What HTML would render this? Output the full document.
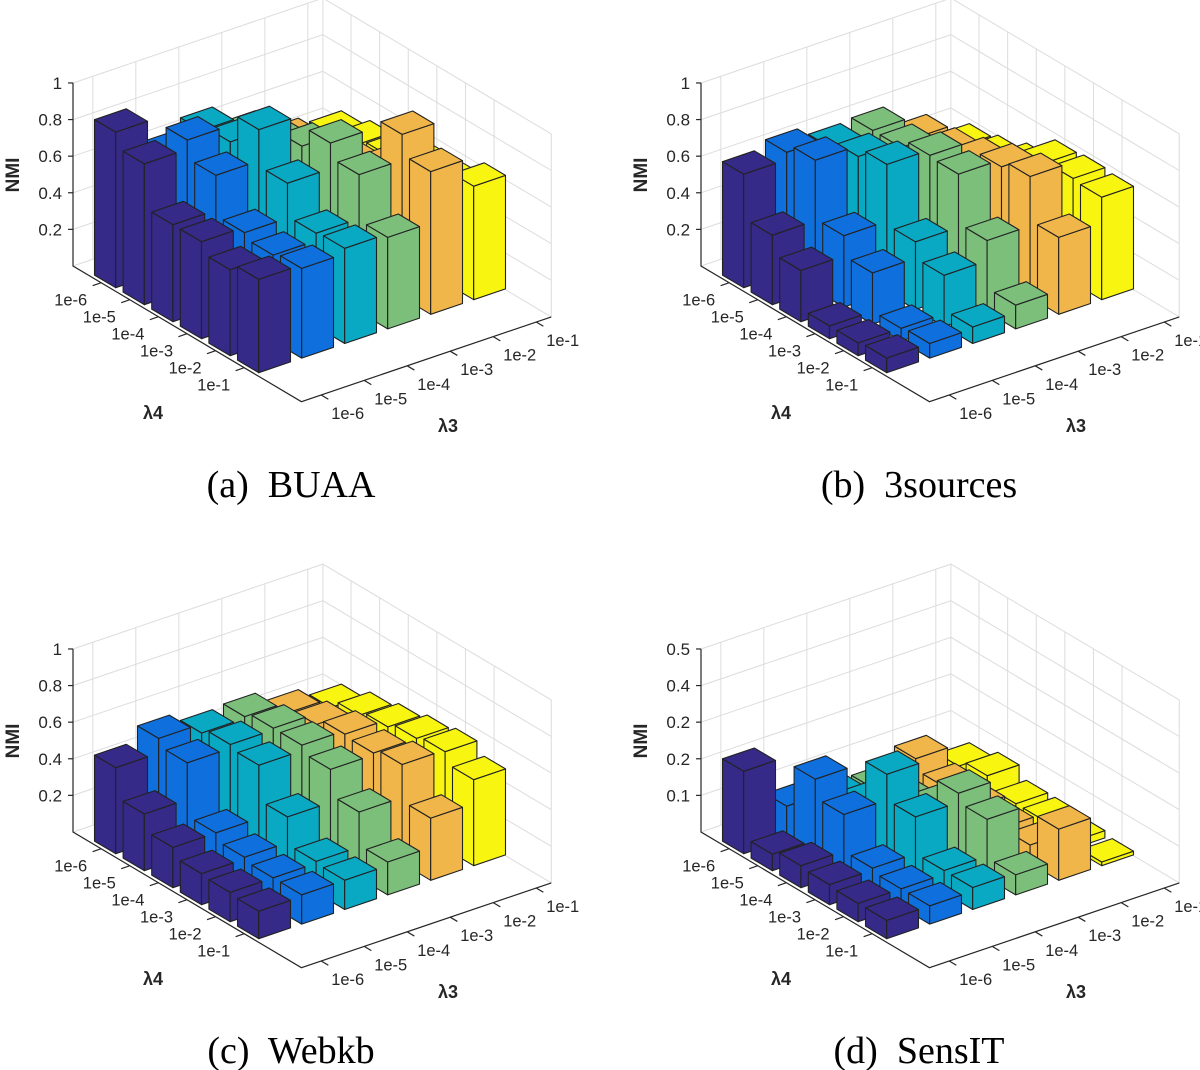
<!DOCTYPE html>
<html><head><meta charset="utf-8">
<style>
html,body{margin:0;padding:0;background:#fff;}
svg{display:block;}
text{font-family:"Liberation Sans",sans-serif;fill:#262626;}
.cap{font-family:"Liberation Serif",serif;font-size:38px;fill:#000;}
</style></head>
<body>
<svg id="fig" width="1200" height="1070" viewBox="0 0 1200 1070" xmlns="http://www.w3.org/2000/svg"></svg>
<script>
// tick labels
const lambdaLabels = ['1e-6','1e-5','1e-4','1e-3','1e-2','1e-1'];
const colors = ['#352a87','#0f6fdc','#0aa9c3','#7cbf7b','#f1b64a','#f8f511'];
// NMI values: each array = one λ3 column, values over λ4 (1e-6 .. 1e-1)
const buaaL3_1e6 = [0.85,0.77,0.53,0.53,0.47,0.51];
const buaaL3_1e5 = [0.64,0.82,0.72,0.50,0.47,0.49];
const buaaL3_1e4 = [0.70,0.73,0.89,0.69,0.51,0.52];
const buaaL3_1e3 = [0.60,0.65,0.72,0.83,0.75,0.50];
const buaaL3_1e2 = [0.48,0.50,0.55,0.60,0.89,0.78];
const buaaL3_1e1 = [0.44,0.48,0.51,0.55,0.55,0.62];

const srcL3_1e6 = [0.62,0.38,0.28,0.07,0.07,0.08];
const srcL3_1e5 = [0.66,0.71,0.39,0.28,0.07,0.08];
const srcL3_1e4 = [0.61,0.65,0.70,0.37,0.28,0.09];
const srcL3_1e3 = [0.62,0.62,0.67,0.66,0.39,0.13];
const srcL3_1e2 = [0.50,0.52,0.56,0.62,0.66,0.42];
const srcL3_1e1 = [0.37,0.40,0.45,0.56,0.57,0.56];

const webL3_1e6 = [0.47,0.31,0.22,0.17,0.16,0.15];
const webL3_1e5 = [0.55,0.51,0.22,0.18,0.16,0.16];
const webL3_1e4 = [0.50,0.53,0.51,0.32,0.17,0.16];
const webL3_1e3 = [0.51,0.54,0.54,0.50,0.36,0.18];
const webL3_1e2 = [0.45,0.48,0.52,0.51,0.54,0.34];
const webL3_1e1 = [0.40,0.45,0.48,0.51,0.53,0.47];

const senL3_1e6 = [0.225,0.045,0.06,0.055,0.05,0.05];
const senL3_1e5 = [0.09,0.21,0.16,0.06,0.05,0.05];
const senL3_1e4 = [0.08,0.10,0.23,0.16,0.06,0.06];
const senL3_1e3 = [0.06,0.07,0.10,0.185,0.16,0.055];
const senL3_1e2 = [0.10,0.07,0.06,0.05,0.05,0.14];
const senL3_1e1 = [0.04,0.06,0.03,0.03,0.02,0.01];

const zTicksFull = [0.2,0.4,0.6,0.8,1];
const zTickLabelsFull = ['0.2','0.4','0.6','0.8','1'];
const zTicksSen = [0.1,0.2,0.3,0.4,0.5];
const zTickLabelsSen = ['0.1','0.2','0.2','0.4','0.5'];

const NS = 'http://www.w3.org/2000/svg';
const svg = document.getElementById('fig');
const UX=28.6, UY=17, VX=43, VY=-14.6;
const IMIN=-0.985, IMAX=7, JMIN=-0.46, JMAX=5.35;

function el(tag, attrs, parent){
  const e=document.createElementNS(NS,tag);
  for(const k in attrs) e.setAttribute(k,attrs[k]);
  parent.appendChild(e); return e;
}
function pts(a){return a.map(p=>p[0].toFixed(1)+','+p[1].toFixed(1)).join(' ');}

function drawPanel(name, ox, oy, zs, zmax, zt, ztl, cols, caption){
  const g=el('g',{},svg);
  
  
  const X0=121+ox, Y0=276+oy;
  const P=(i,j,z)=>[X0+i*UX+j*VX, Y0+i*UY+j*VY - z*zs];
  const grid=el('g',{stroke:'#dcdcdc','stroke-width':1,fill:'none'},g);
  
  
  const zl=[0].concat(zt);
  zl.forEach(z=>{
    let a=P(IMIN,JMIN,z),b=P(IMIN,JMAX,z),c=P(IMAX,JMAX,z);
    el('polyline',{points:pts([a,b,c])},grid);
  });
  for(let j=0;j<6;j++){let a=P(IMIN,j,0),b=P(IMIN,j,zmax);el('line',{x1:a[0],y1:a[1],x2:b[0],y2:b[1]},grid);}
  for(let i=0;i<6;i++){let a=P(i,JMAX,0),b=P(i,JMAX,zmax);el('line',{x1:a[0],y1:a[1],x2:b[0],y2:b[1]},grid);}
  [[IMIN,JMAX],[IMAX,JMAX]].forEach(q=>{let a=P(q[0],q[1],0),b=P(q[0],q[1],zmax);el('line',{x1:a[0],y1:a[1],x2:b[0],y2:b[1]},grid);});

  // axes
  const ax=el('g',{stroke:'#262626','stroke-width':1.2,fill:'none'},g);
  
  
  let o=P(IMIN,JMIN,0),t=P(IMIN,JMIN,zmax),f=P(IMAX,JMIN,0),r=P(IMAX,JMAX,0);
  el('polyline',{points:pts([t,o,f,r])},ax);
  zt.forEach((z,k)=>{
    const p=P(IMIN,JMIN,z);
    el('line',{x1:p[0],y1:p[1],x2:p[0]-5,y2:p[1]},ax);
    const tx=el('text',{x:p[0]-11,y:p[1]+6,'text-anchor':'end','font-size':17},g);
    tx.textContent=ztl[k];
    
    
  });
  for(let i=0;i<6;i++){
    const p=P(i,JMIN,0),q=P(i,JMIN-0.2,0);
    el('line',{x1:p[0],y1:p[1],x2:q[0],y2:q[1]},ax);
    const tx=el('text',{x:p[0]-14,y:p[1]+23,'text-anchor':'end','font-size':16.5},g);
    tx.textContent=lambdaLabels[i];
    
    
  }
  for(let j=0;j<6;j++){
    const p=P(IMAX,j,0),q=P(IMAX+0.25,j,0);
    el('line',{x1:p[0],y1:p[1],x2:q[0],y2:q[1]},ax);
    const tx=el('text',{x:p[0]+10,y:p[1]+24,'text-anchor':'start','font-size':16.5},g);
    tx.textContent=lambdaLabels[j];
    
    
  }
  const yl=el('text',{x:0,y:0,'font-size':19,'font-weight':'bold','text-anchor':'middle',transform:`translate(${ox+19},${oy+175}) rotate(-90)`},g);
  yl.textContent='NMI';
  
  
  const l4=el('text',{x:ox+153,y:oy+419,'font-size':18,'font-weight':'bold','text-anchor':'middle'},g);
  l4.textContent='λ4';
  
  
  const l3=el('text',{x:ox+448,y:oy+432,'font-size':18,'font-weight':'bold','text-anchor':'middle'},g);
  l3.textContent='λ3';
  
  

  // bars
  const bars=[];
  for(let j=0;j<6;j++)for(let i=0;i<6;i++)bars.push({i,j,v:cols[j][i]});
  bars.sort((a,b)=>(UY*a.i+VY*a.j)-(UY*b.i+VY*b.j));
  const bg=el('g',{stroke:'#222','stroke-width':1.1,'stroke-linejoin':'round'},g);
  bars.forEach(b=>{
    const h=0.37,z=b.v,c=colors[b.j];
    const A0=P(b.i-h,b.j-h,0),B0=P(b.i+h,b.j-h,0),C0=P(b.i+h,b.j+h,0);
    const A1=P(b.i-h,b.j-h,z),B1=P(b.i+h,b.j-h,z),C1=P(b.i+h,b.j+h,z),D1=P(b.i-h,b.j+h,z);
    const bar=el('g',{fill:c},bg);
    
    
    el('polygon',{points:pts([A0,B0,B1,A1])},bar);
    el('polygon',{points:pts([B0,C0,C1,B1])},bar);
    el('polygon',{points:pts([A1,B1,C1,D1])},bar);
  });
  const cap=el('text',{x:ox+291,y:oy+497,'text-anchor':'middle','class':'cap'},g);
  cap.textContent=caption;
  
  
}

drawPanel('buaa',0,0,183,1,zTicksFull,zTickLabelsFull,
  [buaaL3_1e6,buaaL3_1e5,buaaL3_1e4,buaaL3_1e3,buaaL3_1e2,buaaL3_1e1],'(a)\u00a0 BUAA');
drawPanel('3sources',628,0,183,1,zTicksFull,zTickLabelsFull,
  [srcL3_1e6,srcL3_1e5,srcL3_1e4,srcL3_1e3,srcL3_1e2,srcL3_1e1],'(b)\u00a0 3sources');
drawPanel('webkb',0,566,183,1,zTicksFull,zTickLabelsFull,
  [webL3_1e6,webL3_1e5,webL3_1e4,webL3_1e3,webL3_1e2,webL3_1e1],'(c)\u00a0 Webkb');
drawPanel('sensit',628,566,366,0.5,zTicksSen,zTickLabelsSen,
  [senL3_1e6,senL3_1e5,senL3_1e4,senL3_1e3,senL3_1e2,senL3_1e1],'(d)\u00a0 SensIT');
</script>
</body></html>
